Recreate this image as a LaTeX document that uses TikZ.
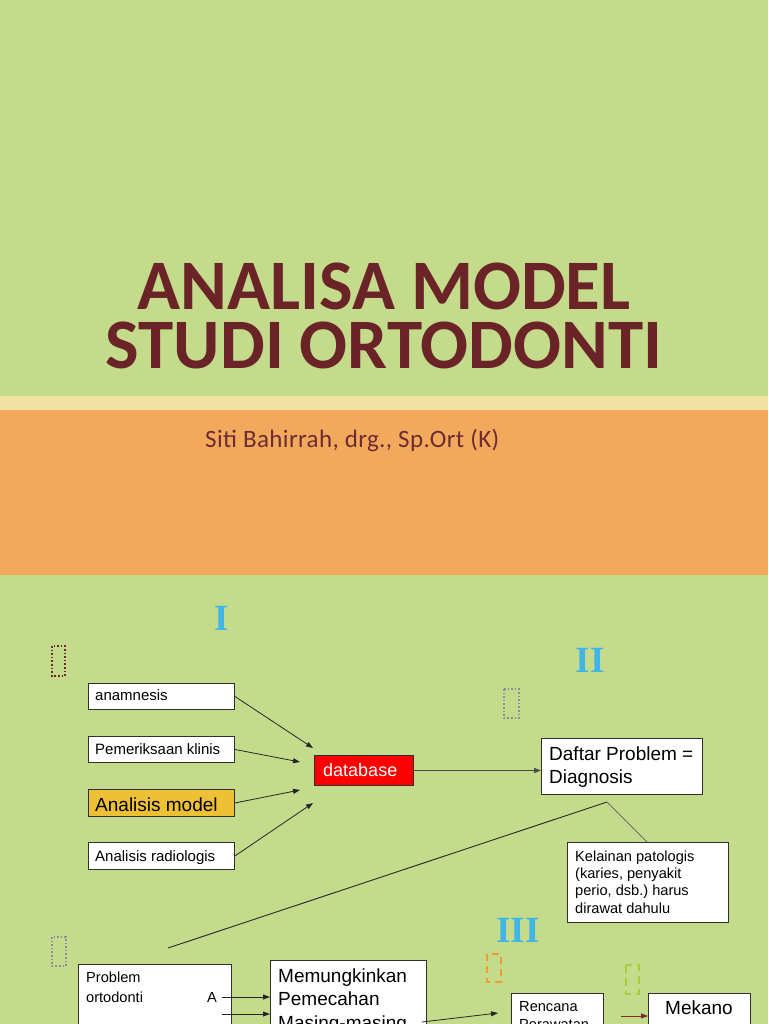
\documentclass[tikz,border=0pt]{standalone}
\usepackage{fontspec}
\setmainfont{Liberation Sans}
\newfontfamily\titlefont{Carlito}
\newfontfamily\subfont[LetterSpace=1.5]{Carlito}
\newfontfamily\romanfont{Liberation Serif}
\usetikzlibrary{arrows.meta}
\definecolor{bggreen}{HTML}{C4DB8C}
\definecolor{creamstripe}{HTML}{F3E0A3}
\definecolor{orangeband}{HTML}{F3A95B}
\definecolor{titlered}{HTML}{6A2428}
\definecolor{subred}{HTML}{6C2C33}
\definecolor{romanblue}{HTML}{41B5E6}
\definecolor{boxline}{HTML}{303030}
\definecolor{modelgold}{HTML}{EEC035}
\definecolor{glyphred}{HTML}{6E2A2A}
\definecolor{glyphgray}{HTML}{8C8C9C}
\definecolor{glyphorange}{HTML}{F59A30}
\definecolor{glyphgreen}{HTML}{A8CC40}
\definecolor{calloutgray}{HTML}{6E6E6E}
\definecolor{darkarrow}{HTML}{7B3030}
\tikzset{
  box/.style={draw=boxline, line width=0.9pt, fill=white, inner sep=0pt, anchor=north west},
  lab/.style={anchor=base west, inner sep=0pt},
  titlest/.style={anchor=base, inner sep=0pt, text height=48pt, text depth=0pt, text=titlered, font=\titlefont\bfseries\fontsize{71}{80}\selectfont},
  roman/.style={anchor=base, inner sep=0pt, text=romanblue, font=\romanfont\bfseries\fontsize{37}{40}\selectfont},
  arr/.style={draw=black!85, line width=0.8pt, -{Triangle[length=7pt,width=5pt]}},
  plainline/.style={draw=black!85, line width=0.9pt},
  glyphbox/.style={line width=1.6pt, dotted}
}
\frenchspacing
\begin{document}
\begin{tikzpicture}[x=1pt,y=-1pt]
\useasboundingbox (0,0) rectangle (768,1024);
\clip (0,0) rectangle (768,1024);
% backgrounds
\fill[bggreen] (0,0) rectangle (768,397);
\fill[creamstripe] (0,396) rectangle (768,411);
\fill[orangeband] (0,410) rectangle (768,576);
\fill[bggreen] (0,575) rectangle (768,1024);
% title slide
\node[titlest] (t1) at (384,309) {ANALISA MODEL};
\node[titlest] (t2) at (384,368) {STUDI ORTODONTI};
\node[lab, text=subred, font=\subfont\fontsize{25}{30}\selectfont] (sub) at (205,447) {Siti Bahirrah, drg., Sp.Ort (K)};
% roman numerals
\node[roman] (r1) at (222,630) {I};
\node[roman] (r2) at (590,672) {II};
\node[roman] (r3) at (518,942) {III};
% missing glyph boxes
\draw[glyphbox, draw=glyphred, line width=2.6pt] (52,646) rectangle (65,676);
\draw[glyphbox, draw=glyphgray] (504,689) rectangle (519,718);
\draw[glyphbox, draw=glyphgray] (52,937) rectangle (66,966);
\draw[line width=1.8pt, draw=glyphorange, dash pattern=on 7pt off 5pt] (487,954) rectangle (501,982);
\draw[line width=1.8pt, draw=glyphgreen, dash pattern=on 8pt off 5pt] (626,965) rectangle (639,994);
% left boxes
\node[box, minimum width=146pt, minimum height=26pt] (anam) at (88,683) {};
\node[lab, font=\fontsize{15}{18}\selectfont] (anamt) at (95,700) {anamnesis};
\node[box, minimum width=146pt, minimum height=26pt] (pem) at (88,736) {};
\node[lab, font=\fontsize{15}{18}\selectfont] (pemt) at (95,754) {Pemeriksaan klinis};
\node[box, fill=modelgold, minimum width=146pt, minimum height=27pt] (model) at (88,789) {};
\node[lab, font=\fontsize{19}{22}\selectfont] (modelt) at (95,811) {Analisis model};
\node[box, minimum width=146pt, minimum height=27pt] (radio) at (88,842) {};
\node[lab, font=\fontsize{15}{18}\selectfont] (radiot) at (95,861) {Analisis radiologis};
% database
\node[box, fill=red, minimum width=99pt, minimum height=30pt] (db) at (314,755) {};
\node[lab, text=white, font=\fontsize{18}{21}\selectfont] (dbt) at (323,776) {database};
% daftar problem
\node[box, minimum width=161pt, minimum height=56pt] (daftar) at (541,738) {};
\node[lab, font=\fontsize{19}{23}\selectfont] (daftart) at (549,760) {\parbox[t]{150pt}{\raggedright Daftar Problem =\\Diagnosis}};
% kelainan
\node[box, minimum width=161pt, minimum height=80pt] (kel) at (567,842) {};
\node[lab, font=\fontsize{14.6}{17.4}\selectfont] (kelt) at (575,861) {\parbox[t]{150pt}{\raggedright Kelainan patologis\\(karies, penyakit\\perio, dsb.) harus\\dirawat dahulu}};
% bottom boxes
\node[box, minimum width=153pt, minimum height=100pt] (prob) at (78,964) {};
\node[lab, font=\fontsize{14.6}{20}\selectfont] (probt) at (86,982) {\parbox[t]{100pt}{\raggedright Problem\\ortodonti}};
\node[lab, font=\fontsize{14.6}{20}\selectfont] (proba) at (207,1002) {A};
\node[box, minimum width=156pt, minimum height=100pt] (mem) at (270,960) {};
\node[lab, font=\fontsize{19}{23.5}\selectfont] (memt) at (278,982) {\parbox[t]{145pt}{\raggedright Memungkinkan\\Pemecahan\\Masing-masing}};
\node[box, minimum width=92pt, minimum height=100pt] (ren) at (511,993) {};
\node[lab, font=\fontsize{14.6}{18.5}\selectfont] (rent) at (519,1011) {\parbox[t]{80pt}{\raggedright Rencana\\Perawatan}};
\node[box, minimum width=102pt, minimum height=100pt] (mek) at (648,993) {};
\node[anchor=base, inner sep=0pt, font=\fontsize{19}{23}\selectfont] (mekt) at (699,1014) {Mekano};
% coordinates
\coordinate (c1) at (313,748);
\coordinate (c2) at (300,762);
\coordinate (c3) at (300,790);
\coordinate (c4) at (313,803);
\coordinate (pl1) at (168,948);
\coordinate (pl2) at (607,802);
\coordinate (pa1) at (222,997);
\coordinate (pa2) at (222,1014);
\coordinate (ma1) at (422,1022);
\coordinate (ma2) at (498,1013);
\coordinate (ra1) at (621,1016);
% connectors
\draw[arr] (anam.east) -- (c1);
\draw[arr] (pem.east) -- (c2);
\draw[arr] (model.east) -- (c3);
\draw[arr] (radio.east) -- (c4);
\draw[arr, draw=black!70] (db.east) -- (daftar.west |- db.east);
\draw[plainline] (pl1) -- (pl2);
\draw[draw=calloutgray, line width=1pt] (pl2) -- ([xshift=80pt]kel.north west);
\draw[arr] (pa1) -- (pa1 -| mem.west);
\draw[arr] (pa2) -- (pa2 -| mem.west);
\draw[arr] (ma1) -- (ma2);
\draw[arr, draw=darkarrow] (ra1) -- (ra1 -| mek.west);
\end{tikzpicture}
\end{document}
